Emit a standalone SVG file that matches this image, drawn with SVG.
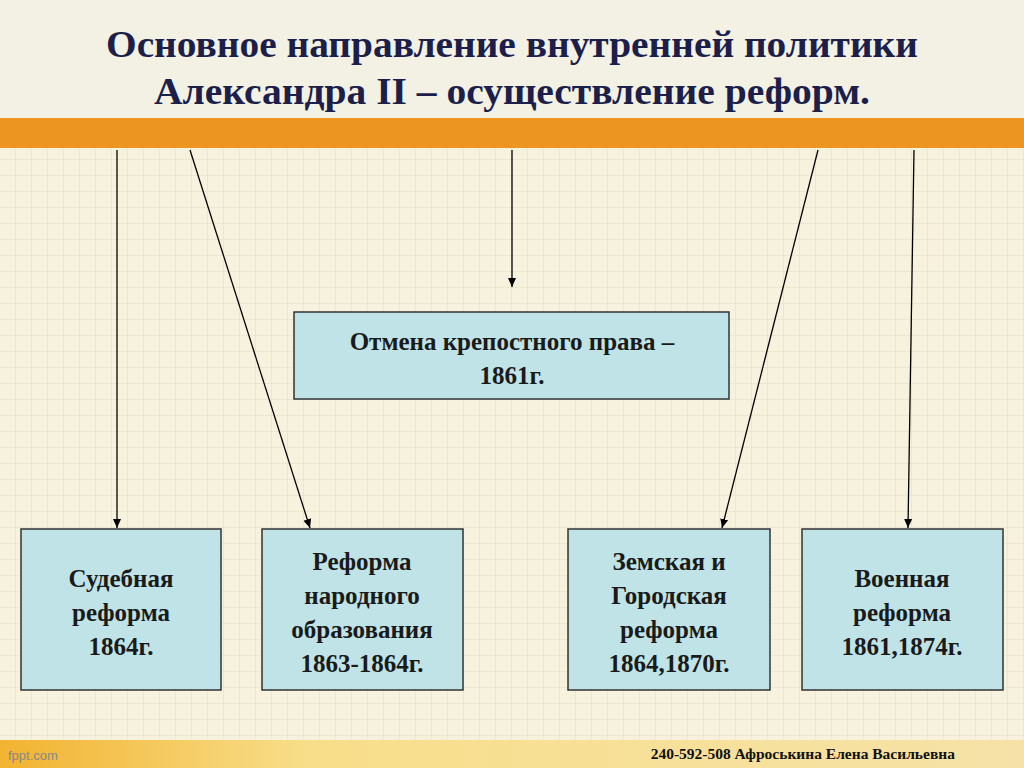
<svg xmlns="http://www.w3.org/2000/svg" width="1024" height="768" viewBox="0 0 1024 768">
<defs>
<pattern id="grid" width="16" height="16" patternUnits="userSpaceOnUse">
<path d="M16 0V16H0" fill="none" stroke="#e2dcc4" stroke-width="1"/>
</pattern>
<linearGradient id="foot" x1="0" x2="1" y1="0" y2="0">
<stop offset="0" stop-color="#f2b330"/><stop offset="0.3" stop-color="#f8de8a"/><stop offset="1" stop-color="#f6e2a8"/>
</linearGradient>
<marker id="ar" markerWidth="10" markerHeight="10" refX="9" refY="5" orient="auto" markerUnits="userSpaceOnUse">
<path d="M0,1 L9,5 L0,9 Z" fill="#000"/>
</marker>
<style>
.box{fill:#bfe3e6;stroke:#333;stroke-width:1.5}
.t{font-family:"Liberation Serif",serif;font-weight:bold;font-size:25px;fill:#1a1a1a;text-anchor:middle}
.h{font-family:"Liberation Serif",serif;font-weight:bold;font-size:38px;fill:#1b1f4a;text-anchor:middle}
.c{stroke:#000;stroke-width:1.3;fill:none;marker-end:url(#ar)}
</style>
</defs>
<rect width="1024" height="768" fill="#f6f2de"/>
<rect y="148" width="1024" height="592" fill="url(#grid)"/>
<rect width="1024" height="120" fill="#f3f1e4"/>
<rect y="118" width="1024" height="30" fill="#ec9520"/>
<rect y="740" width="1024" height="28" fill="url(#foot)"/>
<text class="h" x="512" y="57" textLength="812" lengthAdjust="spacingAndGlyphs">Основное направление внутренней политики</text>
<text class="h" x="512" y="104" textLength="716" lengthAdjust="spacingAndGlyphs">Александра II – осуществление реформ.</text>
<g id="connectors">
<line class="c" x1="117" y1="150" x2="117" y2="528"/>
<line class="c" x1="190" y1="150" x2="310" y2="528"/>
<line class="c" x1="512" y1="150" x2="512" y2="287"/>
<line class="c" x1="818" y1="150" x2="722" y2="528"/>
<line class="c" x1="914" y1="150" x2="908" y2="528"/>
</g>
<g id="n0"><rect class="box" x="294" y="312" width="435" height="87"/>
<text class="t" x="512" y="350">Отмена крепостного права –</text><text class="t" x="512" y="384">1861г.</text></g>
<g id="n1"><rect class="box" x="21" y="529" width="200" height="161"/>
<text class="t" x="121" y="587">Судебная</text><text class="t" x="121" y="621">реформа</text><text class="t" x="121" y="655">1864г.</text></g>
<g id="n2"><rect class="box" x="262" y="529" width="201" height="161"/>
<text class="t" x="362" y="570">Реформа</text><text class="t" x="362" y="604">народного</text><text class="t" x="362" y="638">образования</text><text class="t" x="362" y="672">1863-1864г.</text></g>
<g id="n3"><rect class="box" x="568" y="529" width="202" height="161"/>
<text class="t" x="669" y="570">Земская и</text><text class="t" x="669" y="604">Городская</text><text class="t" x="669" y="638">реформа</text><text class="t" x="669" y="672">1864,1870г.</text></g>
<g id="n4"><rect class="box" x="802" y="529" width="201" height="161"/>
<text class="t" x="902" y="587">Военная</text><text class="t" x="902" y="621">реформа</text><text class="t" x="902" y="655">1861,1874г.</text></g>
<text x="8" y="760" font-family="'Liberation Sans',sans-serif" font-size="13" fill="#888">fppt.com</text>
<text x="955" y="759" font-family="'Liberation Serif',serif" font-size="15.5" font-weight="bold" fill="#111" text-anchor="end">240-592-508 Афроськина Елена Васильевна</text>
</svg>
